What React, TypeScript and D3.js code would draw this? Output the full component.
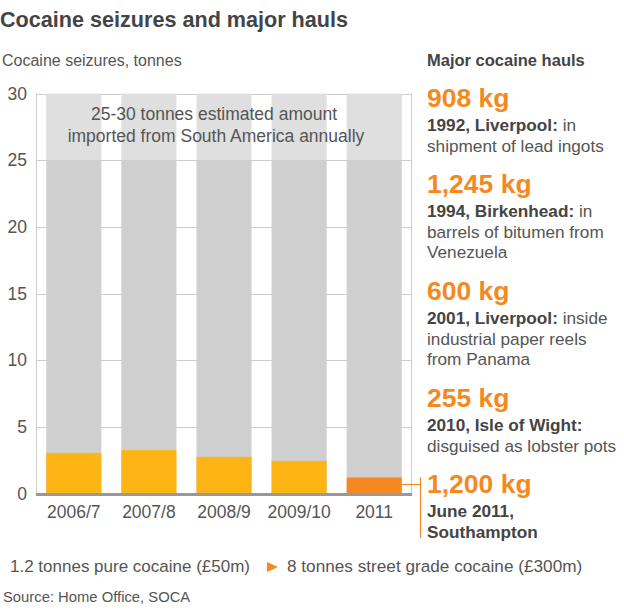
import React from "react";
import * as d3 from "d3";

const categories = ["2006/7", "2007/8", "2008/9", "2009/10", "2011"];
const seizures = [3.05, 3.25, 2.75, 2.45, 1.2];
const importLow = 25;
const importHigh = 30;
const yTicks = [0, 5, 10, 15, 20, 25, 30];
const haulWeights = ["908 kg", "1,245 kg", "600 kg", "255 kg", "1,200 kg"];
const haulHeads = ["1992, Liverpool:", "1994, Birkenhead:", "2001, Liverpool:", "2010, Isle of Wight:", "June 2011,"];
const haulLines = [
  [" in", "shipment of lead ingots"],
  [" in", "barrels of bitumen from", "Venezuela"],
  [" inside", "industrial paper reels", "from Panama"],
  ["", "disguised as lobster pots"],
  ["", "Southampton"],
];
const haulTops = [107, 193, 300, 407, 493];

const FONT = "'Liberation Sans', Arial, Helvetica, sans-serif";
const TXT = "#555555";
const DARK = "#444444";
const ORANGE = "#f5891f";
const YELLOW = "#fdb515";

export default function App() {
  const x = d3.scaleBand<string>().domain(categories).range([36.5, 411.5]).paddingInner(0.267).paddingOuter(0.13);
  const y = d3.scaleLinear().domain([0, 30]).range([493.5, 93.5]);
  const bw = x.bandwidth();
  const last = categories[categories.length - 1];

  return (
    <svg width={624} height={614} style={{ position: "absolute", left: 0, top: 0, background: "#fff" }} fontFamily={FONT}>
      <text x={0} y={27} fontSize={21.6} fontWeight="bold" fill={DARK}>Cocaine seizures and major hauls</text>
      <text x={2} y={66} fontSize={16} fill={TXT}>Cocaine seizures, tonnes</text>
      <text x={427} y={66} fontSize={16.5} fontWeight="bold" fill={DARK}>Major cocaine hauls</text>

      {/* grid */}
      {yTicks.filter((t) => t > 0).map((t) => (
        <line key={t} x1={36} x2={412} y1={Math.round(y(t)) + 0.5} y2={Math.round(y(t)) + 0.5} stroke="#cccccc" strokeWidth={1} />
      ))}
      <line x1={36.5} x2={36.5} y1={y(30)} y2={y(0)} stroke="#cccccc" />
      <line x1={411.5} x2={411.5} y1={y(30)} y2={y(0)} stroke="#cccccc" />

      {categories.map((c, i) => (
        <g key={c}>
          <rect x={x(c)} y={y(importHigh)} width={bw} height={y(importLow) - y(importHigh)} fill="#dfdfdf" />
          <rect x={x(c)} y={y(importLow)} width={bw} height={y(0) - y(importLow)} fill="#cfcfcf" />
          <rect x={x(c)} y={y(seizures[i])} width={bw} height={y(0) - y(seizures[i])} fill={c === last ? ORANGE : YELLOW} />
          <text x={(x(c) as number) + bw / 2} y={518} fontSize={17.5} textAnchor="middle" fill={TXT}>{c}</text>
        </g>
      ))}
      <rect x={36} y={493} width={376} height={3} fill="#999999" />

      {yTicks.map((t) => (
        <text key={t} x={27} y={y(t)} dy="0.35em" fontSize={17.5} textAnchor="end" fill={TXT}>{t}</text>
      ))}

      <text x={214} y={120} fontSize={17.5} textAnchor="middle" fill={TXT}>{importLow}-{importHigh} tonnes estimated amount</text>
      <text x={216} y={142} fontSize={17.5} textAnchor="middle" fill={TXT}>imported from South America annually</text>

      {/* connector */}
      <path d={`M${(x(last) as number) + bw},${y(1.2) + 7}H420.5M420.5,${y(1.2)}V538`} fill="none" stroke={ORANGE} strokeWidth={1.2} />

      {haulWeights.map((w, i) => (
        <g key={w}>
          <text x={427} y={haulTops[i]} fontSize={26.5} fontWeight="bold" fill={ORANGE}>{w}</text>
          <text x={427} y={haulTops[i] + 24} fontSize={17.2} fill={TXT}>
            <tspan fontWeight="bold" fill={DARK}>{haulHeads[i]}</tspan>
            {haulLines[i][0]}
          </text>
          {haulLines[i].slice(1).map((l, j) => (
            <text key={j} x={427} y={haulTops[i] + 24 + 20.5 * (j + 1)} fontSize={17.2}
              fontWeight={i === 4 ? "bold" : "normal"} fill={i === 4 ? DARK : TXT}>{l}</text>
          ))}
        </g>
      ))}

      <text x={10} y={572} fontSize={17} fill={TXT}>1.2 tonnes pure cocaine (£50m)</text>
      <path d="M267,562L278,567L267,572Z" fill={ORANGE} />
      <text x={287} y={572} fontSize={17.2} fill={TXT}>8 tonnes street grade cocaine (£300m)</text>
      <text x={3} y={602} fontSize={14.8} fill={TXT}>Source: Home Office, SOCA</text>
    </svg>
  );
}
